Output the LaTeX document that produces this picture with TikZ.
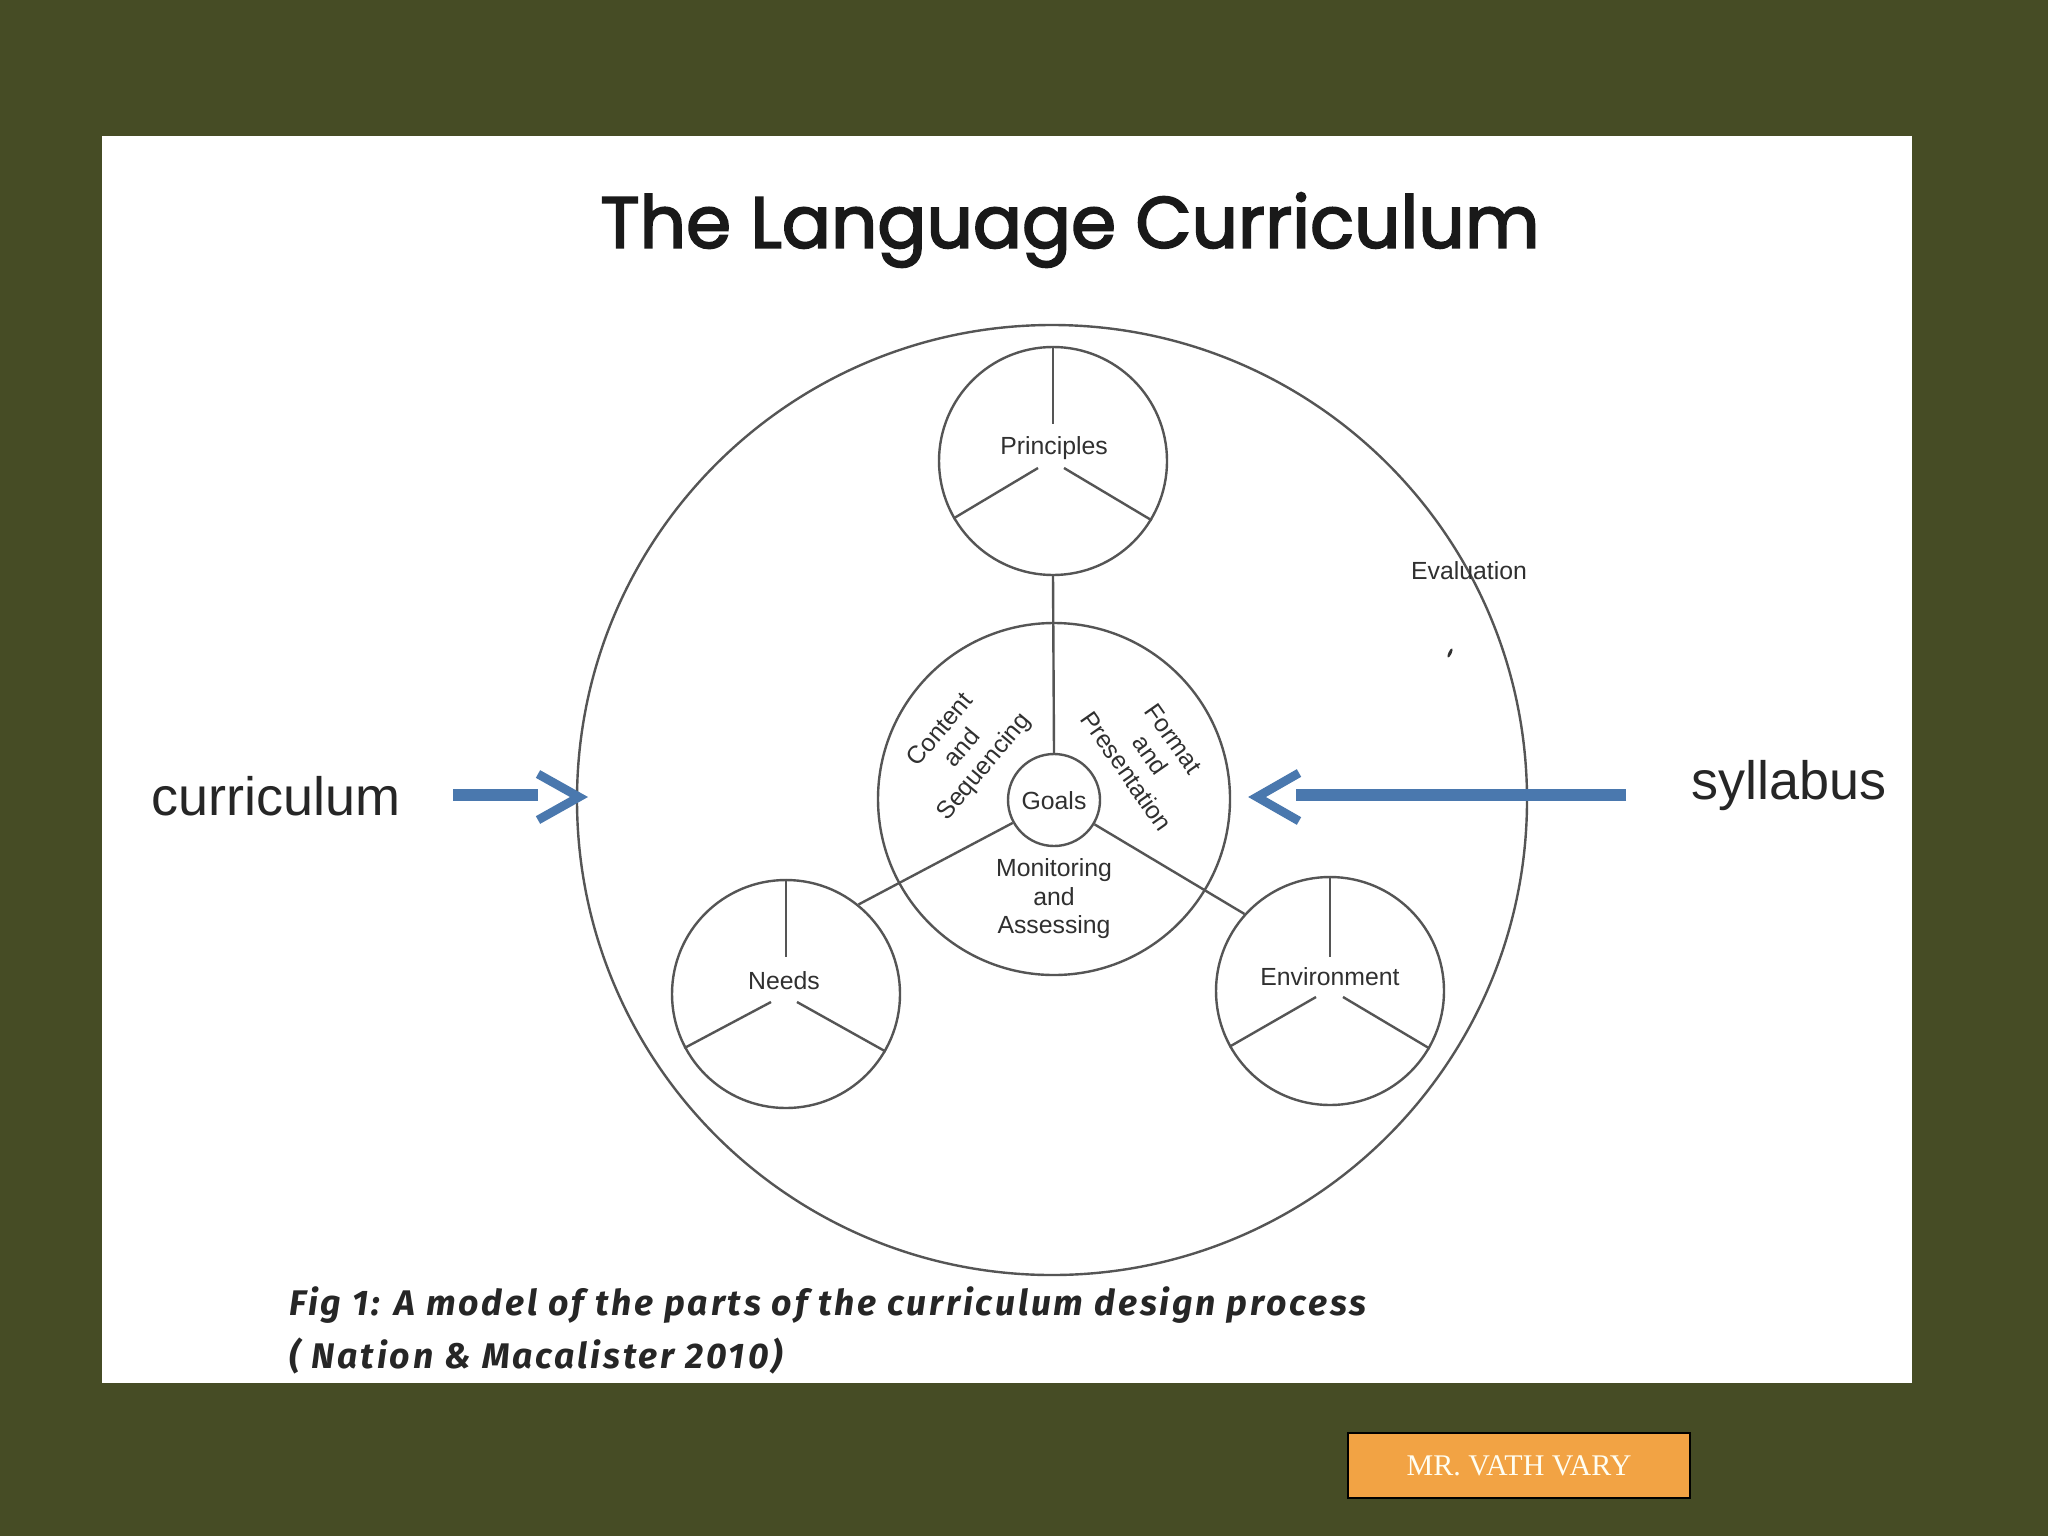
\documentclass[tikz,border=0pt]{standalone}
\usepackage{fontspec}
\setmainfont{Liberation Sans}
\newfontfamily\titlefont[FakeBold=2.5]{Poppins}
\newfontfamily\capfont[LetterSpace=8]{Fira Sans}
\newfontfamily\footfont{Liberation Serif}
\definecolor{bgolive}{HTML}{464C25}
\definecolor{linegray}{HTML}{555555}
\definecolor{arrowblue}{HTML}{4A78AE}
\definecolor{tagorange}{HTML}{F2A344}
\definecolor{inkdark}{HTML}{303030}
\tikzset{
  ring/.style={draw=linegray,line width=1.2pt,circle,inner sep=0pt,fill=none},
  satellite/.style={ring,minimum size=114pt},
  spoke/.style={draw=linegray,line width=1.2pt},
  smalllabel/.style={font=\fontsize{12.4pt}{14.25pt}\selectfont,text=inkdark,align=center,inner sep=0pt},
  biglabel/.style={font=\fontsize{27pt}{32pt}\selectfont,text=black!85,inner sep=0pt},
  bluearrow/.style={draw=arrowblue,line width=5.6pt},
  bluehead/.style={draw=arrowblue,line width=4.4pt,miter limit=10},
  captext/.style={font=\capfont\fontsize{17.8pt}{20pt}\selectfont\bfseries\itshape,text=black!85,anchor=west,inner sep=0pt},
}
\begin{document}
\begin{tikzpicture}[x=0.5pt,y=-0.5pt]
\useasboundingbox (0,0) rectangle (2048,1536);
\fill[bgolive] (0,0) rectangle (2048,1536);
\fill[white] (102,136) rectangle (1912,1383);

\node[font=\titlefont\fontsize{36.3pt}{40pt}\selectfont,text=black!90,inner sep=0pt] (title) at (1070,230) {The Language Curriculum};

% circles
\node[ring,minimum size=475pt] (outer) at (1052,800) {};
\node[ring,minimum size=176pt] (inner) at (1054,799) {};
\node[ring,minimum size=46pt] (goals) at (1054,800) {};
\node[satellite] (prin) at (1053,461) {};
\node[satellite] (needs) at (786,994) {};
\node[satellite] (env) at (1330,991) {};

% connectors
\draw[spoke] (prin.south) -- (goals.north);
\draw[spoke] (goals.209.5) -- (needs.51);
\draw[spoke] (goals.-31.5) -- (env.138);

% spokes inside the satellites
\coordinate (pa) at (1053,424);
\coordinate (pb) at (1038,468);
\coordinate (pc) at (1064,468);
\draw[spoke] (prin.north) -- (pa);
\draw[spoke] (prin.210) -- (pb);
\draw[spoke] (prin.-31) -- (pc);
\coordinate (na) at (786,957);
\coordinate (nb) at (771,1002);
\coordinate (nc) at (797,1002);
\draw[spoke] (needs.north) -- (na);
\draw[spoke] (needs.208) -- (nb);
\draw[spoke] (needs.-30) -- (nc);
\coordinate (ea) at (1330,957);
\coordinate (eb) at (1316,997);
\coordinate (ec) at (1343,997);
\draw[spoke] (env.north) -- (ea);
\draw[spoke] (env.209) -- (eb);
\draw[spoke] (env.-30.5) -- (ec);

% labels
\node[smalllabel] (lprin) at (1054,448) {Principles};
\node[smalllabel] (lneeds) at (784,981) {Needs};
\node[smalllabel] (lenv) at (1330,977) {Environment};
\node[smalllabel] (lgoals) at (1054,801) {Goals};
\node[smalllabel] (leval) at (1469,571) {Evaluation};
\node[smalllabel] (lmon) at (1054,899) {Monitoring\\and\\Assessing};
\node[smalllabel,rotate=50] (lcon) at (963,749) {Content\\and\\Sequencing};
\node[smalllabel,rotate=-55] (lfmt) at (1150,755) {Format\\and\\Presentation};

\node[biglabel] (lcur) at (276,796) {curriculum};
\node[biglabel] (lsyl) at (1789,786) {syllabus};

% blue arrows
\coordinate (ca) at (453,795);
\coordinate (cb) at (538,795);
\coordinate (cc) at (538,774);
\coordinate (ct) at (579,797);
\coordinate (cd) at (538,820);
\draw[bluearrow] (ca) -- (cb);
\draw[bluehead] (cc) -- (ct) -- (cd);
\coordinate (sa) at (1626,795);
\coordinate (sb) at (1296,795);
\coordinate (sc) at (1299,773);
\coordinate (st) at (1257,797);
\coordinate (sd) at (1299,821);
\draw[bluearrow] (sa) -- (sb);
\draw[bluehead] (sc) -- (st) -- (sd);

% scan speck beside the outer ring
\fill[inkdark,rotate around={65:(1450,653)}] (1450,653) ellipse [x radius=5,y radius=1.6];

% caption
\node[captext] (cap1) at (289,1305) {Fig 1: A model of the parts of the curriculum design process};
\node[captext] (cap2) at (289,1356) {( Nation \& Macalister 2010)};

% tag
\node[draw=black,line width=1pt,fill=tagorange,minimum width=171pt,minimum height=32.5pt,inner sep=0pt,
  font=\footfont\fontsize{15pt}{16pt}\selectfont,text=white!95!yellow,yshift=0.3pt] (tag) at (1519,1466) {MR. VATH VARY};
\end{tikzpicture}
\end{document}
